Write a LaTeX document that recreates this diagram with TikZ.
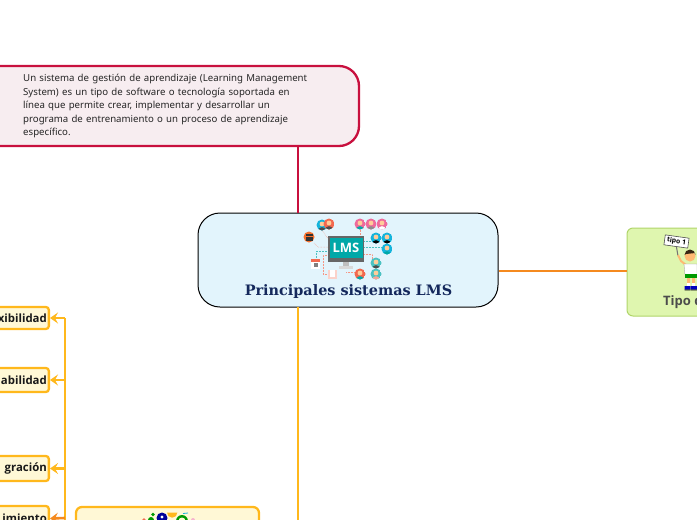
\documentclass[tikz,border=0pt]{standalone}
\usepackage{fontspec}
\setmainfont{Noto Sans}
\newfontfamily\boldsans{Open Sans}[UprightFont=* Bold]
\newfontfamily\titlefont{DejaVu Serif}
\usetikzlibrary{arrows.meta}
\definecolor{redline}{HTML}{C8103E}
\definecolor{redfill}{HTML}{F7EDF0}
\definecolor{orangeline}{HTML}{F58A1F}
\definecolor{yellowline}{HTML}{FFB81C}
\definecolor{yellowfill}{HTML}{FFF8D6}
\definecolor{centerfill}{HTML}{E2F4FC}
\definecolor{greenfill}{HTML}{DFF6AF}
\definecolor{greenline}{HTML}{B0D56A}
\definecolor{navy}{HTML}{14285C}
\definecolor{teal1}{HTML}{00A8A8}
\definecolor{pink1}{HTML}{EE6A9C}
\definecolor{cyan1}{HTML}{14B4DC}
\definecolor{coral}{HTML}{F2694F}
\tikzset{
  x=1pt,y=-1pt,
  central/.style={draw=black,line width=1pt,fill=centerfill,rounded corners=22pt,minimum width=300pt,minimum height=94pt,inner sep=0pt},
  descbox/.style={draw=redline,line width=2.3pt,fill=redfill,rounded corners=20pt,minimum width=379pt,minimum height=80pt,text width=293pt,inner xsep=43pt,inner ysep=0pt,align=left,font=\fontsize{9.65pt}{13.5pt}\selectfont,text=black!85},
  typebox/.style={draw=greenline,line width=1pt,fill=greenfill,rounded corners=6pt,minimum width=140pt,minimum height=88pt,inner sep=0pt},
  leaf/.style={draw=yellowline,line width=2.3pt,fill=yellowfill,rounded corners=3pt,anchor=east,text width=88pt,inner xsep=2pt,inner ysep=0pt,align=right,font=\boldsans\fontsize{11.4pt}{14pt}\selectfont,text=black!90},
  bigbox/.style={draw=yellowline,line width=2.3pt,fill=yellowfill,rounded corners=6pt,minimum width=183pt,minimum height=60pt,inner sep=0pt},
  link/.style={line width=2.6pt},
  branch/.style={line width=2.6pt,draw=yellowline,-{Stealth[length=8pt,width=11pt,inset=3pt]}},
  trace/.style={line width=.5pt,draw=coral!70,densely dotted},
}
\begin{document}
\begin{tikzpicture}
\useasboundingbox (0,0) rectangle (697,520);
\clip (0,0) rectangle (697,520);
% nodes
\node[central] (main) at (348,260) {};
\node[descbox] (desc) at (169.5,106) {};
\node[anchor=west,text width=293pt,inner sep=0pt,align=left,font=\fontsize{9.65pt}{13.5pt}\selectfont,text=black!85] (desctext) at (23,106) {Un sistema de gestión de aprendizaje (Learning Management\\System) es un tipo de software o tecnología soportada en\\línea que permite crear, implementar y desarrollar un\\programa de entrenamiento o un proceso de aprendizaje\\específico.};
\node[typebox] (type) at (697,272) {};
\node[bigbox] (big) at (167.5,537) {};
\node[leaf,minimum height=22pt] (l1) at (50,318) {\raisebox{-.7pt}{xibilidad}};
\node[leaf,minimum height=24pt] (l2) at (50,380) {\raisebox{-.7pt}{abilidad}};
\node[leaf,minimum height=25pt] (l3) at (50,468.5) {\raisebox{-.7pt}{gración}};
\node[leaf,minimum height=25pt] (l4) at (50,518.5) {\raisebox{-.7pt}{imiento}};
\node[font=\titlefont\fontsize{14.4pt}{16pt}\selectfont\bfseries,text=navy,inner sep=0pt] (title) at (348.5,291.5) {Principales sistemas LMS};
\node[font=\boldsans\fontsize{13pt}{15pt}\selectfont,text=black!70,anchor=west,inner sep=0pt] (typetext) at (663,302) {Tipo d};
% connectors
\coordinate (mainTop) at (298,213);
\coordinate (descBot) at (298,146);
\coordinate (mainBot) at (298,307);
\coordinate (pageBot) at (298,520);
\coordinate (trunkTop) at (65,318);
\coordinate (trunkBot) at (65,520);
\coordinate (t2) at (65,380);
\coordinate (t3) at (65,468.5);
\coordinate (t4) at (65,518);
\draw[link,redline] (descBot) -- (mainTop);
\draw[link,orangeline] (main.east |- 0,271) -- (type.west |- 0,271);
\draw[link,yellowline] (mainBot) -- (pageBot);
\draw[link,yellowline] (trunkTop) -- (trunkBot);
\draw[branch] (trunkTop) -- (l1.east);
\draw[branch] (t2) -- (l2.east);
\draw[branch] (t3) -- (l3.east);
\draw[branch,draw=orangeline] (t4) -- (l4.east);
% LMS icon traces
\draw[trace] (322,230) -- (329,240) (314,243) -- (318,247) -- (328,247);
\draw[trace,draw=teal1!70] (364,247) -- (382,247) (364,241) -- (372,241);
\draw[trace] (360,236) -- (360,229) (364,254) -- (372,254) -- (372,262);
\draw[trace] (328,255) -- (323,255) -- (323,274) -- (327,274);
\draw[trace,draw=teal1!70] (328,251) -- (316,251) -- (316,258);
\draw[trace] (346,272) -- (355,272);
% monitor
\fill[black!60] (328,236) rectangle (364,262);
\fill[teal1] (329.5,237.5) rectangle (362.5,258);
\node[text=white,font=\boldsans\fontsize{13pt}{14pt}\selectfont,inner sep=0pt] (lms) at (346,248) {LMS};
\fill[black!25] (343,262) rectangle (349,266);
\fill[black!15] (339,266) rectangle (353,269);
% people
\foreach \px/\py/\c/\s in {360/224/pink1/teal1,371/224/pink1/black!45,382/224/pink1/white,376/238/cyan1/black,387/238/cyan1/black,387/249/cyan1/teal1,376/263/teal1!70/black!70,376/274/teal1!70/coral!60,360/274/coral/teal1,322/225/cyan1/black!70,329/224/coral/black!70}{
  \begin{scope}
    \clip (\px,\py) circle[radius=5.5];
    \fill[\c] (\px,\py) circle[radius=5.5];
    \fill[\s] (\px,\py+5.5) ellipse[x radius=3.8, y radius=3.3];
    \fill[orange!40!white] (\px,\py-1) circle[radius=2.4];
  \end{scope}
}
\fill[coral!60!orange] (309,237) circle[radius=5.5];
\fill[black!80] (305.5,236.5) rectangle (312.5,240.5);
\fill[black!80] (305.5,234) rectangle (312.5,235.5);
% calendar and note
\fill[white] (311,260) rectangle (320,269);
\fill[coral] (311,259) rectangle (320,261.5);
\fill[black!50] (314,263) rectangle (318,267);
\fill[coral!30!white] (328,270) rectangle (337,279);
\fill[white] (329.5,270) rectangle (335,277);
% boy with sign (right node)
\draw[line width=1pt,black!55] (676.5,247) -- (678,256);
\node[draw=black!70,line width=.6pt,fill=white,rotate=-8,minimum width=24pt,minimum height=10pt,inner sep=0pt,font=\boldsans\fontsize{6.8pt}{7pt}\selectfont,text=black] (sign) at (676.5,241.5) {tipo 1};
\draw[line width=2pt,orange!55!white] (678,255) -- (681,261) -- (686,265);
\fill[white,draw=black!40,line width=.3pt] (684,264) -- (697,264) -- (697,275) -- (685,275) -- cycle;
\fill[green!60!black] (685,274) rectangle (697,278);
\fill[orange!55!white] (690,256) circle[radius=5.5];
\fill[black!70!brown] (684.5,255) arc[start angle=180,end angle=360,radius=5.5] -- (695,253) -- (686,254) -- cycle;
\fill[orange!55!white] (687,278) rectangle (690,283) (692,278) rectangle (695,283);
\fill[white] (687,283) rectangle (690,286) (692,283) rectangle (695,286);
\fill[blue!75!black] (684.5,286) rectangle (690.5,289.5) (691,286) rectangle (697,289.5);
\fill[black] (684.5,289.5) rectangle (690.5,290.3) (691,289.5) rectangle (697,290.3);
% bottom icon (big node)
\fill[yellowline] (167,512.5) arc[start angle=180,end angle=0,radius=5.2] -- cycle;
\fill[blue!60!black] (162,518) circle[radius=5.5];
\fill[white] (162,517) circle[radius=1.6];
\fill[green!60!black] (182,521) circle[radius=6];
\fill[yellowfill] (182,521) circle[radius=3.5];
\fill[green!60!black] (153,514.5) circle[radius=1.8];
\fill[green!60!black] (151,520) circle[radius=3];
\fill[coral] (144,520) circle[radius=1.8];
\fill[pink1!50] (193,520) circle[radius=2];
\draw[cyan1,line width=.8pt] (183,513.5) -- (188,513);
\end{tikzpicture}
\end{document}
